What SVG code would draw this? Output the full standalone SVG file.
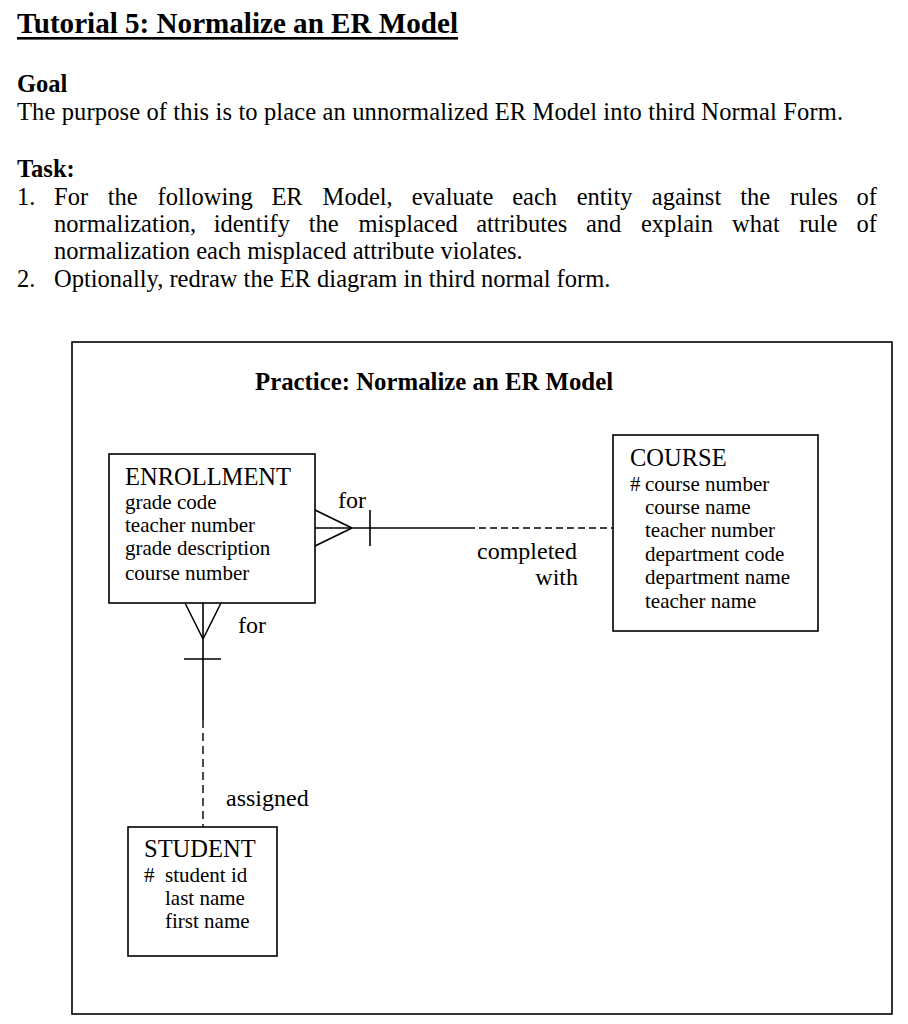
<svg xmlns="http://www.w3.org/2000/svg" width="908" height="1024" viewBox="0 0 908 1024">
<style>
text { font-family: "Liberation Serif", "Times New Roman", serif; fill: #000; }
.h1 { font-size: 29px; font-weight: bold; }
.hb { font-size: 24.5px; font-weight: bold; }
.body { font-size: 24.5px; }
.ptitle { font-size: 24.8px; font-weight: bold; }
.ent { font-size: 24.5px; }
.attr { font-size: 21px; }
.lbl { font-size: 24px; }
.box { fill: #fff; stroke: #000; stroke-width: 1.6; }
.ln { stroke: #000; stroke-width: 1.6; fill: none; }
.dash { stroke: #000; stroke-width: 1.4; fill: none; stroke-dasharray: 7 4; }
</style>
<rect width="908" height="1024" fill="#fff"/>
<g id="header">
  <text class="h1" x="17" y="33" textLength="441" lengthAdjust="spacingAndGlyphs">Tutorial 5: Normalize an ER Model</text>
  <rect x="17" y="37" width="441" height="2.6" fill="#000"/>
  <text class="hb" x="17" y="92">Goal</text>
  <text class="body" x="17" y="120" textLength="826" lengthAdjust="spacing">The purpose of this is to place an unnormalized ER Model into third Normal Form.</text>
  <text class="hb" x="17" y="177">Task:</text>
  <text class="body" y="205"><tspan x="17">1.</tspan><tspan x="54">For</tspan><tspan x="107.8">the</tspan><tspan x="157.6">following</tspan><tspan x="271.4">ER</tspan><tspan x="322.6">Model,</tspan><tspan x="411.7">evaluate</tspan><tspan x="512.2">each</tspan><tspan x="576.7">entity</tspan><tspan x="651.8">against</tspan><tspan x="740.3">the</tspan><tspan x="790.1">rules</tspan><tspan x="856.5">of</tspan></text>
  <text class="body" y="232"><tspan x="54">normalization,</tspan><tspan x="213.7">identify</tspan><tspan x="308.8">the</tspan><tspan x="358.5">misplaced</tspan><tspan x="476.2">attributes</tspan><tspan x="585.9">and</tspan><tspan x="641">explain</tspan><tspan x="732.1">what</tspan><tspan x="799.2">rule</tspan><tspan x="856.5">of</tspan></text>
  <text class="body" x="54" y="259">normalization each misplaced attribute violates.</text>
  <text class="body" y="287"><tspan x="17">2.</tspan><tspan x="54">Optionally, redraw the ER diagram in third normal form.</tspan></text>
</g>
<g id="frame">
  <rect x="72" y="342" width="820" height="672" fill="none" stroke="#000" stroke-width="1.6"/>
  <text class="ptitle" x="255" y="390">Practice: Normalize an ER Model</text>
</g>
<g id="connectors">
  <line class="ln" x1="315" y1="510" x2="352" y2="528"/>
  <line class="ln" x1="315" y1="546" x2="352" y2="528"/>
  <line class="ln" x1="315" y1="528" x2="468" y2="528"/>
  <line class="ln" x1="370" y1="510" x2="370" y2="546"/>
  <line class="dash" x1="468" y1="528" x2="613" y2="528"/>
  <line class="ln" x1="185" y1="603" x2="203" y2="639"/>
  <line class="ln" x1="221" y1="603" x2="203" y2="639"/>
  <line class="ln" x1="203" y1="603" x2="203" y2="720"/>
  <line class="ln" x1="184" y1="659" x2="221" y2="659"/>
  <line class="dash" x1="203" y1="720" x2="203" y2="827" style="stroke-dasharray: 8 5"/>
  <text class="lbl" x="338" y="508">for</text>
  <text class="lbl" x="477" y="559">completed</text>
  <text class="lbl" x="578" y="585" text-anchor="end">with</text>
  <text class="lbl" x="238" y="633">for</text>
  <text class="lbl" x="226" y="806">assigned</text>
</g>
<g id="enrollment">
  <rect class="box" x="109" y="454" width="206" height="149"/>
  <text class="ent" x="125" y="485">ENROLLMENT</text>
  <text class="attr" x="125" y="509">grade code</text>
  <text class="attr" x="125" y="532">teacher number</text>
  <text class="attr" x="125" y="555">grade description</text>
  <text class="attr" x="125" y="580">course number</text>
</g>
<g id="course">
  <rect class="box" x="613" y="435" width="205" height="196"/>
  <text class="ent" x="630" y="466">COURSE</text>
  <text class="attr" x="630" y="491">#</text>
  <text class="attr" x="645" y="491">course number</text>
  <text class="attr" x="645" y="514">course name</text>
  <text class="attr" x="645" y="537">teacher number</text>
  <text class="attr" x="645" y="561">department code</text>
  <text class="attr" x="645" y="584">department name</text>
  <text class="attr" x="645" y="608">teacher name</text>
</g>
<g id="student">
  <rect class="box" x="128" y="827" width="149" height="129"/>
  <text class="ent" x="144" y="857">STUDENT</text>
  <text class="attr" x="144" y="882">#</text>
  <text class="attr" x="165" y="882">student id</text>
  <text class="attr" x="165" y="905">last name</text>
  <text class="attr" x="165" y="928">first name</text>
</g>
</svg>
